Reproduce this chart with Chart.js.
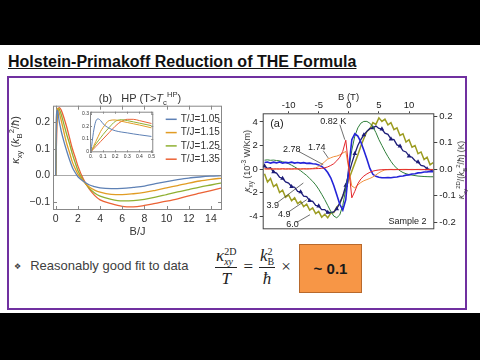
<!DOCTYPE html>
<html>
<head>
<meta charset="utf-8">
<title>Holstein-Primakoff Reduction of THE Formula</title>
<script src="https://cdn.jsdelivr.net/npm/chart.js@4.4.0/dist/chart.umd.min.js"></script>
<style>
  body { margin: 0; width: 480px; height: 360px; background: #000; overflow: hidden;
         font-family: "Liberation Sans", Arial, sans-serif; position: relative; }
  .abs { position: absolute; }
  #slide { left: 0; top: 45px; width: 480px; height: 268px; background: #fff; }
  #title { left: 8px; top: 53px; font-size: 16px; font-weight: bold; text-decoration: underline; color: #111; white-space: nowrap; }
  #frame { left: 7px; top: 76px; width: 460px; height: 234px; border: 2px solid #7030a0; box-sizing: border-box; }
  canvas { position: absolute; }
  .rot { transform: translate(-50%, -50%) rotate(-90deg); white-space: nowrap; color: #333; }
  .rot sub, .rot sup, #plotTitle sub, #plotTitle sup { font-size: 70%; line-height: 0; }
  #plotTitle { left: 140px; top: 98px; transform: translate(-50%, -50%); font-size: 11px; color: #333; white-space: nowrap; }
  #bullet { left: 14px; top: 258px; font-size: 13px; color: #404040; white-space: nowrap; }
  #bullet span { font-family: "DejaVu Sans"; font-size: 8px; margin-right: 9px; vertical-align: 1px; }
  #formula { left: 215px; top: 245px; font-family: "Liberation Serif", "DejaVu Serif", serif; font-size: 17px; color: #222; white-space: nowrap; }
  .frac { display: inline-block; vertical-align: middle; text-align: center; }
  .num { display: block; border-bottom: 1px solid #222; padding: 0 1px; line-height: 21px; }
  .den { display: block; line-height: 21px; }
  .ss { display: inline-block; vertical-align: middle; font-size: 10px; line-height: 10px; text-align: left; font-style: normal; }
  .ss span { display: block; }
  .op { margin: 0 6px; vertical-align: middle; }
  #orange { left: 299px; top: 244px; width: 63px; height: 49px; background: #f79646; border: 1px solid #b8692c;
            box-sizing: border-box; font-size: 15px; font-weight: bold; color: #1a1a1a; text-align: center; line-height: 47px; }
</style>
</head>
<body>
<div id="slide" class="abs"></div>
<div id="title" class="abs">Holstein-Primakoff Reduction of THE Formula</div>
<div id="frame" class="abs"></div>

<canvas id="hpChart" width="222" height="155" style="left:10px;top:88px;"></canvas>
<canvas id="insetChart" width="76" height="54" style="left:80px;top:106px;"></canvas>
<canvas id="dataChart" width="225" height="145" style="left:240px;top:92px;"></canvas>

<div id="plotTitle" class="abs">(b)&nbsp;&nbsp; HP (T&gt;<i>T</i><sub>c</sub><sup>HP</sup>)</div>
<div class="abs rot" style="left:15px;top:140px;font-size:11px;"><i>κ</i><sub>xy</sub> (<i>k</i><sub>B</sub><sup>2</sup>/<i>ħ</i>)</div>
<div class="abs rot" style="left:247px;top:161px;font-size:9px;"><i>κ</i><sub>xy</sub> (10<sup>-3</sup> W/Km)</div>
<div class="abs rot" style="left:461px;top:170px;font-size:8.5px;"><i>κ</i><sub>xy</sub><sup>2D</sup>/(<i>k</i><sub>B</sub><sup>2</sup>/<i>ħ</i>) (K)</div>

<div id="bullet" class="abs"><span>❖</span>Reasonably good fit to data</div>
<div id="formula" class="abs">
  <span class="frac"><span class="num"><i>κ</i><span class="ss"><span>2D</span><i>xy</i></span></span><span class="den"><i>T</i></span></span><span class="op">=</span><span class="frac"><span class="num"><i>k</i><span class="ss"><span>2</span><span>B</span></span></span><span class="den"><i>ħ</i></span></span><span class="op">×</span>
</div>
<div id="orange" class="abs">~ 0.1</div>

<script>
// ---- (b) HP theory curves, kappa_xy vs B/J ----
const bj = [0, 0.05, 0.1, 0.15, 0.2, 0.3, 0.4, 0.5, 0.75, 1, 1.25, 1.5, 1.75, 2, 2.5, 3, 3.5, 4, 5, 6, 7, 8, 9, 10, 11, 12, 13, 14, 15];
const hp105 = [0, 0.2, 0.243, 0.245, 0.238, 0.205, 0.185, 0.165, 0.125, 0.09, 0.058, 0.03, 0.011, -0.005, -0.022, -0.035, -0.042, -0.047, -0.05, -0.049, -0.045, -0.04, -0.031, -0.023, -0.016, -0.01, -0.006, -0.003, -0.001];
const hp115 = [0, 0.19, 0.245, 0.252, 0.25, 0.238, 0.222, 0.205, 0.16, 0.118, 0.085, 0.05, 0.026, 0.005, -0.022, -0.043, -0.055, -0.063, -0.071, -0.072, -0.069, -0.064, -0.056, -0.047, -0.038, -0.029, -0.021, -0.015, -0.01];
const hp125 = [0, 0.15, 0.22, 0.245, 0.252, 0.25, 0.24, 0.228, 0.19, 0.152, 0.118, 0.08, 0.048, 0.018, -0.02, -0.047, -0.066, -0.078, -0.09, -0.096, -0.095, -0.09, -0.082, -0.072, -0.062, -0.053, -0.044, -0.036, -0.028];
const hp135 = [0, 0.1, 0.18, 0.225, 0.245, 0.255, 0.252, 0.245, 0.215, 0.18, 0.14, 0.1, 0.068, 0.035, -0.015, -0.05, -0.075, -0.092, -0.106, -0.116, -0.118, -0.113, -0.105, -0.097, -0.088, -0.077, -0.067, -0.057, -0.047];
const hpLabels = ['T/J=1.05', 'T/J=1.15', 'T/J=1.25', 'T/J=1.35'];
const hpColors = ['#5e81b5', '#e19c24', '#8fb032', '#eb6235'];
const hpXTicks = [0, 2, 4, 6, 8, 10, 12, 14];
const hpYTicks = [-0.1, 0, 0.1, 0.2];

// inset
const insetX = [0, 0.02, 0.04, 0.06, 0.08, 0.1, 0.15, 0.2, 0.25, 0.3, 0.35, 0.4, 0.5];
const in105 = [0, 0.15, 0.24, 0.258, 0.245, 0.22, 0.185, 0.165, 0.155, 0.148, 0.14, 0.133, 0.12];
const in115 = [0, 0.04, 0.08, 0.12, 0.16, 0.19, 0.245, 0.25, 0.24, 0.23, 0.22, 0.21, 0.188];
const in125 = [0, 0.03, 0.06, 0.085, 0.11, 0.135, 0.19, 0.238, 0.252, 0.245, 0.235, 0.225, 0.205];
const in135 = [0, 0.02, 0.04, 0.06, 0.08, 0.1, 0.15, 0.2, 0.238, 0.255, 0.255, 0.245, 0.222];
const insetXTicks = [0, 0.1, 0.2, 0.3, 0.4, 0.5];
const insetYTicks = [0, 0.1, 0.2, 0.3];

// ---- (a) measured kappa_xy vs B (T), sample 2 ----
const fieldT = [-14, -13.5, -13, -12.5, -12, -11.5, -11, -10.5, -10, -9.5, -9, -8.5, -8, -7.5, -7, -6.5, -6, -5.5, -5, -4.5, -4, -3.5, -3, -2.5, -2, -1.5, -1, -0.5, 0, 0.5, 1, 1.5, 2, 2.5, 3, 3.5, 4, 4.5, 5, 5.5, 6, 6.5, 7, 7.5, 8, 8.5, 9, 9.5, 10, 10.5, 11, 11.5, 12, 12.5, 13, 13.5, 14];
const k082 = [0.02, 0, 0.02, 0, 0.01, 0, 0.02, 0, 0.01, 0, 0.02, 0.01, 0, 0.02, 0, 0.01, 0.02, 0.03, 0.04, 0.06, 0.1, 0.18, 0.3, 0.45, 0.7, 1.0, 1.5, 2.45, 0.1, -2.45, -1.9, -1.25, -0.85, -0.6, -0.42, -0.28, -0.18, -0.12, -0.08, -0.06, -0.05, -0.06, -0.05, -0.06, -0.05, -0.05, -0.06, -0.05, -0.05, -0.06, -0.05, -0.05, -0.06, -0.05, -0.05, -0.06, -0.05];
const k174 = [0, 0.01, 0, 0.01, 0, 0, 0.01, 0, 0.01, 0, 0, 0.01, 0, 0.01, 0.02, 0.03, 0.05, 0.1, 0.2, 0.4, 0.62, 0.85, 0.95, 1.05, 1.1, 1.2, 1.35, 1.5, 0, -1.45, -1.6, -1.35, -1.15, -1.0, -0.9, -0.8, -0.68, -0.5, -0.32, -0.18, -0.08, -0.04, -0.03, -0.04, -0.03, -0.04, -0.03, -0.03, -0.04, -0.03, -0.04, -0.03, -0.03, -0.04, -0.03, -0.03, -0.04];
const k278 = [0.55, 0.6, 0.5, 0.58, 0.52, 0.6, 0.5, 0.56, 0.52, 0.58, 0.5, 0.55, 0.5, 0.54, 0.48, 0.5, 0.45, 0.42, 0.35, 0.22, 0.02, -0.3, -0.75, -1.4, -2.2, -3.0, -3.5, -2.6, 0.1, 2.5, 3.0, 2.8, 2.3, 1.6, 0.85, 0.05, -0.45, -0.62, -0.7, -0.74, -0.75, -0.72, -0.74, -0.7, -0.68, -0.62, -0.6, -0.52, -0.5, -0.42, -0.4, -0.33, -0.32, -0.26, -0.26, -0.2, -0.22];
const k39 = [0.75, 0.78, 0.74, 0.76, 0.72, 0.7, 0.62, 0.55, 0.45, 0.32, 0.18, 0.02, -0.15, -0.35, -0.55, -0.8, -1.05, -1.35, -1.72, -2.15, -2.6, -3.1, -3.6, -4.0, -4.15, -3.9, -3.1, -1.7, 0, 1.6, 2.8, 3.5, 3.9, 4.05, 4.05, 3.9, 3.6, 3.1, 2.5, 2.0, 1.5, 1.05, 0.65, 0.3, 0.05, -0.15, -0.3, -0.4, -0.47, -0.52, -0.56, -0.6, -0.62, -0.64, -0.65, -0.66, -0.66];
const k49 = [0.25, 0.05, 0.1, -0.25, -0.35, -0.7, -0.8, -1.1, -1.2, -1.5, -1.55, -1.9, -1.95, -2.3, -2.35, -2.7, -2.75, -3.1, -3.15, -3.45, -3.45, -3.7, -3.7, -3.65, -3.4, -2.9, -2.3, -1.4, -0.4, 0.5, 1.3, 2.0, 2.5, 2.9, 3.2, 3.45, 3.5, 3.65, 3.45, 3.4, 3.05, 2.95, 2.55, 2.5, 2.05, 1.95, 1.55, 1.45, 1.1, 1.0, 0.7, 0.6, 0.3, 0.25, 0, -0.05, -0.2];
const k60 = [-0.4, -1.1, -0.8, -1.5, -1.3, -2.0, -1.8, -2.4, -2.2, -2.7, -2.45, -2.95, -2.75, -3.2, -3.0, -3.5, -3.3, -3.8, -3.6, -4.1, -3.85, -4.15, -3.75, -3.7, -3.25, -2.95, -2.3, -1.7, -0.9, -0.2, 0.5, 1.2, 1.95, 2.6, 3.2, 3.4, 3.95, 3.8, 4.35, 4.05, 4.25, 3.75, 3.95, 3.35, 3.5, 2.85, 3.0, 2.3, 2.5, 1.85, 2.0, 1.3, 1.45, 0.8, 1.0, 0.35, 0.55];
const fieldTicks = [-10, -5, 0, 5, 10];
const kLeftTicks = [-4, -2, 0, 2, 4];
const kRightTicks = [-0.2, -0.1, 0, 0.1, 0.2];
const kRatio = 22.55; // left axis units per right axis unit

// text placed on the data plot: [text, B, kappa, size]
const curveNotes = [
  ['(a)', -11.95, 3.83, 11], ['0.82 K', -2.6, 4.06, 9], ['2.78', -9.47, 1.64, 9], ['1.74', -5.34, 1.85, 9],
  ['3.9', -12.64, -3.09, 9], ['4.9', -10.74, -3.89, 9], ['6.0', -9.34, -4.74, 9], ['Sample 2', 9.75, -4.43, 9]
];
const leaders = [
  [-1.49, 3.77, -0.66, 2.49], [-8.38, 1.51, -4.25, 0.37], [-4.25, 1.56, -3.42, 0.94],
  [-11.95, -2.89, -7.55, -1.19], [-10.03, -3.66, -6.99, -2.61], [-8.64, -4.54, -6.45, -3.89]
];

function pts(xs, ys) { return xs.map((x, i) => ({ x: x, y: ys[i] })); }
function fixTicks(list) { return s => { s.ticks = list.map(v => ({ value: v })); }; }

// frame around plot area, optional inward ticks on all four sides
const framePlugin = {
  id: 'frame',
  afterDatasetsDraw(chart, args, o) {
    const { ctx, chartArea: a } = chart;
    const xs = chart.scales.x, ys = chart.scales.y;
    ctx.save();
    ctx.strokeStyle = o.color;
    ctx.lineWidth = o.width;
    ctx.strokeRect(a.left + 0.5, a.top + 0.5, a.right - a.left - 1, a.bottom - a.top - 1);
    if (o.tickLen) {
      ctx.beginPath();
      o.xTicks.forEach(v => {
        const p = Math.round(xs.getPixelForValue(v)) + 0.5;
        ctx.moveTo(p, a.bottom); ctx.lineTo(p, a.bottom - o.tickLen);
        ctx.moveTo(p, a.top); ctx.lineTo(p, a.top + o.tickLen);
      });
      o.yTicks.forEach(v => {
        const p = Math.round(ys.getPixelForValue(v)) + 0.5;
        ctx.moveTo(a.left, p); ctx.lineTo(a.left + o.tickLen, p);
        ctx.moveTo(a.right, p); ctx.lineTo(a.right - o.tickLen, p);
      });
      ctx.stroke();
    }
    ctx.restore();
  }
};

const sideLegend = {
  id: 'sideLegend',
  afterDraw(chart, args, o) {
    const ctx = chart.ctx;
    ctx.save();
    ctx.font = o.font;
    ctx.textBaseline = 'middle';
    chart.data.datasets.forEach((ds, i) => {
      const y = o.y + i * o.gap;
      ctx.strokeStyle = ds.borderColor;
      ctx.lineWidth = 1.5;
      ctx.beginPath(); ctx.moveTo(o.x, y); ctx.lineTo(o.x + 11, y); ctx.stroke();
      ctx.fillStyle = o.color;
      ctx.fillText(ds.label, o.x + 15, y);
    });
    ctx.restore();
  }
};

const notesPlugin = {
  id: 'curveNotes',
  afterDatasetsDraw(chart, args, o) {
    const { ctx, scales: { x, y } } = chart;
    ctx.save();
    ctx.strokeStyle = '#333';
    ctx.lineWidth = 0.7;
    leaders.forEach(l => {
      ctx.beginPath();
      ctx.moveTo(x.getPixelForValue(l[0]), y.getPixelForValue(l[1]));
      ctx.lineTo(x.getPixelForValue(l[2]), y.getPixelForValue(l[3]));
      ctx.stroke();
    });
    ctx.fillStyle = '#222';
    ctx.textAlign = 'center';
    ctx.textBaseline = 'middle';
    curveNotes.forEach(n => {
      ctx.font = n[3] + 'px "Liberation Sans", Arial';
      ctx.fillText(n[0], x.getPixelForValue(n[1]), y.getPixelForValue(n[2]));
    });
    ctx.restore();
  }
};

const tickFont = { family: '"Liberation Sans", Arial', size: 10.5 };

// main HP chart
new Chart(document.getElementById('hpChart'), {
  type: 'line',
  data: {
    datasets: [hp105, hp115, hp125, hp135].map((s, i) => ({
      label: hpLabels[i], data: pts(bj, s), borderColor: hpColors[i], borderWidth: 1.3,
      pointRadius: 0, cubicInterpolationMode: 'monotone', fill: false
    }))
  },
  options: {
    responsive: false, animation: false, devicePixelRatio: 1,
    layout: { padding: { top: 17.7, right: 10, left: 0, bottom: 0 } },
    plugins: {
      legend: { display: false }, tooltip: { enabled: false },
      frame: { color: '#888', width: 1, tickLen: 4, xTicks: hpXTicks, yTicks: hpYTicks },
      sideLegend: { x: 155.7, y: 31.3, gap: 13.3, font: '10px "Liberation Sans", Arial', color: '#333' }
    },
    scales: {
      x: {
        type: 'linear', min: -0.25, max: 15,
        afterBuildTicks: fixTicks(hpXTicks), afterFit: s => { s.height = 33; },
        grid: { display: false, drawTicks: false }, border: { display: false },
        ticks: { font: tickFont, color: '#333', padding: 3, maxRotation: 0 },
        title: { display: true, text: 'B/J', font: { family: '"Liberation Sans", Arial', size: 11 }, color: '#333', padding: { top: 0, bottom: 4 } }
      },
      y: {
        min: -0.13, max: 0.262,
        afterBuildTicks: fixTicks(hpYTicks), afterFit: s => { s.width = 43; },
        grid: { drawTicks: false, color: c => (c.tick && c.tick.value === 0) ? '#aaa' : 'rgba(0,0,0,0)' },
        border: { display: false },
        ticks: { font: tickFont, color: '#333', padding: 3, callback: v => v === 0 ? '0.0' : (v < 0 ? '−' : '') + Math.abs(v).toFixed(1) }
      }
    }
  },
  plugins: [framePlugin, sideLegend]
});

// inset
const insetFont = { family: '"Liberation Sans", Arial', size: 5 };
new Chart(document.getElementById('insetChart'), {
  type: 'line',
  data: {
    datasets: [in105, in115, in125, in135].map((s, i) => ({
      data: pts(insetX, s), borderColor: hpColors[i], borderWidth: 1,
      pointRadius: 0, cubicInterpolationMode: 'monotone'
    }))
  },
  options: {
    responsive: false, animation: false, devicePixelRatio: 1,
    layout: { padding: { top: 5.7, right: 2.7, left: 0, bottom: 0 } },
    plugins: { legend: { display: false }, tooltip: { enabled: false },
      frame: { color: '#888', width: 1, tickLen: 2, xTicks: insetXTicks, yTicks: insetYTicks } },
    scales: {
      x: { type: 'linear', min: -0.008, max: 0.515, afterBuildTicks: fixTicks(insetXTicks), afterFit: s => { s.height = 7.7; },
           grid: { display: false, drawTicks: false }, border: { display: false },
           ticks: { font: insetFont, color: '#333', padding: 1, maxRotation: 0, callback: v => v === 0 ? '0.' : v.toFixed(1) } },
      y: { min: -0.005, max: 0.315, afterBuildTicks: fixTicks(insetYTicks), afterFit: s => { s.width = 10; },
           grid: { display: false, drawTicks: false }, border: { display: false },
           ticks: { font: insetFont, color: '#333', padding: 1, callback: v => v === 0 ? '0' : v.toFixed(1) } }
    }
  },
  plugins: [framePlugin]
});

// measured data chart
const dataFont = { family: '"Liberation Sans", Arial', size: 9.5 };
const measured = [
  { label: '0.82 K', d: k082, c: '#e3262a', w: 1 },
  { label: '1.74', d: k174, c: '#f0913f', w: 1 },
  { label: '2.78', d: k278, c: '#2424d8', w: 1.6 },
  { label: '3.9', d: k39, c: '#2f7f3a', w: 1 },
  { label: '4.9', d: k49, c: '#1c1c78', w: 1.3, marks: true },
  { label: '6.0', d: k60, c: '#9c9c22', w: 1.5 }
];
const kMin = -5.13, kMax = 4.74;
new Chart(document.getElementById('dataChart'), {
  type: 'line',
  data: {
    datasets: measured.map(m => ({
      label: m.label, data: pts(fieldT, m.d), borderColor: m.c, backgroundColor: m.c,
      borderWidth: m.w, tension: 0, fill: false,
      pointStyle: 'triangle', pointRadius: m.marks ? (c => c.dataIndex % 3 === 0 ? 1.4 : 0) : 0
    }))
  },
  options: {
    responsive: false, animation: false, devicePixelRatio: 1,
    layout: { padding: { top: 0, right: 0, left: 0, bottom: 7.7 } },
    plugins: { legend: { display: false }, tooltip: { enabled: false },
      frame: { color: '#444', width: 1, tickLen: 0 }, curveNotes: {} },
    scales: {
      x: {
        type: 'linear', position: 'top', min: -14.3, max: 14.2,
        afterBuildTicks: fixTicks(fieldTicks), afterFit: s => { s.height = 21.3; },
        grid: { drawOnChartArea: false, tickLength: 2, color: '#444' }, border: { display: false },
        ticks: { font: dataFont, color: '#222', padding: 0, maxRotation: 0 },
        title: { display: true, text: 'B (T)', font: dataFont, color: '#222', padding: 0 }
      },
      y: {
        position: 'left', min: kMin, max: kMax,
        afterBuildTicks: fixTicks(kLeftTicks), afterFit: s => { s.width = 22.7; },
        grid: { drawOnChartArea: false, tickLength: 3, color: '#444' }, border: { display: false },
        ticks: { font: dataFont, color: '#222', padding: 2 }
      },
      y2: {
        position: 'right', min: kMin / kRatio, max: kMax / kRatio,
        afterBuildTicks: fixTicks(kRightTicks), afterFit: s => { s.width = 30.7; },
        grid: { drawOnChartArea: false, tickLength: 3, color: '#444' }, border: { display: false },
        ticks: { font: dataFont, color: '#222', padding: 2, callback: v => v.toFixed(1) }
      }
    }
  },
  plugins: [framePlugin, notesPlugin]
});
</script>
</body>
</html>
